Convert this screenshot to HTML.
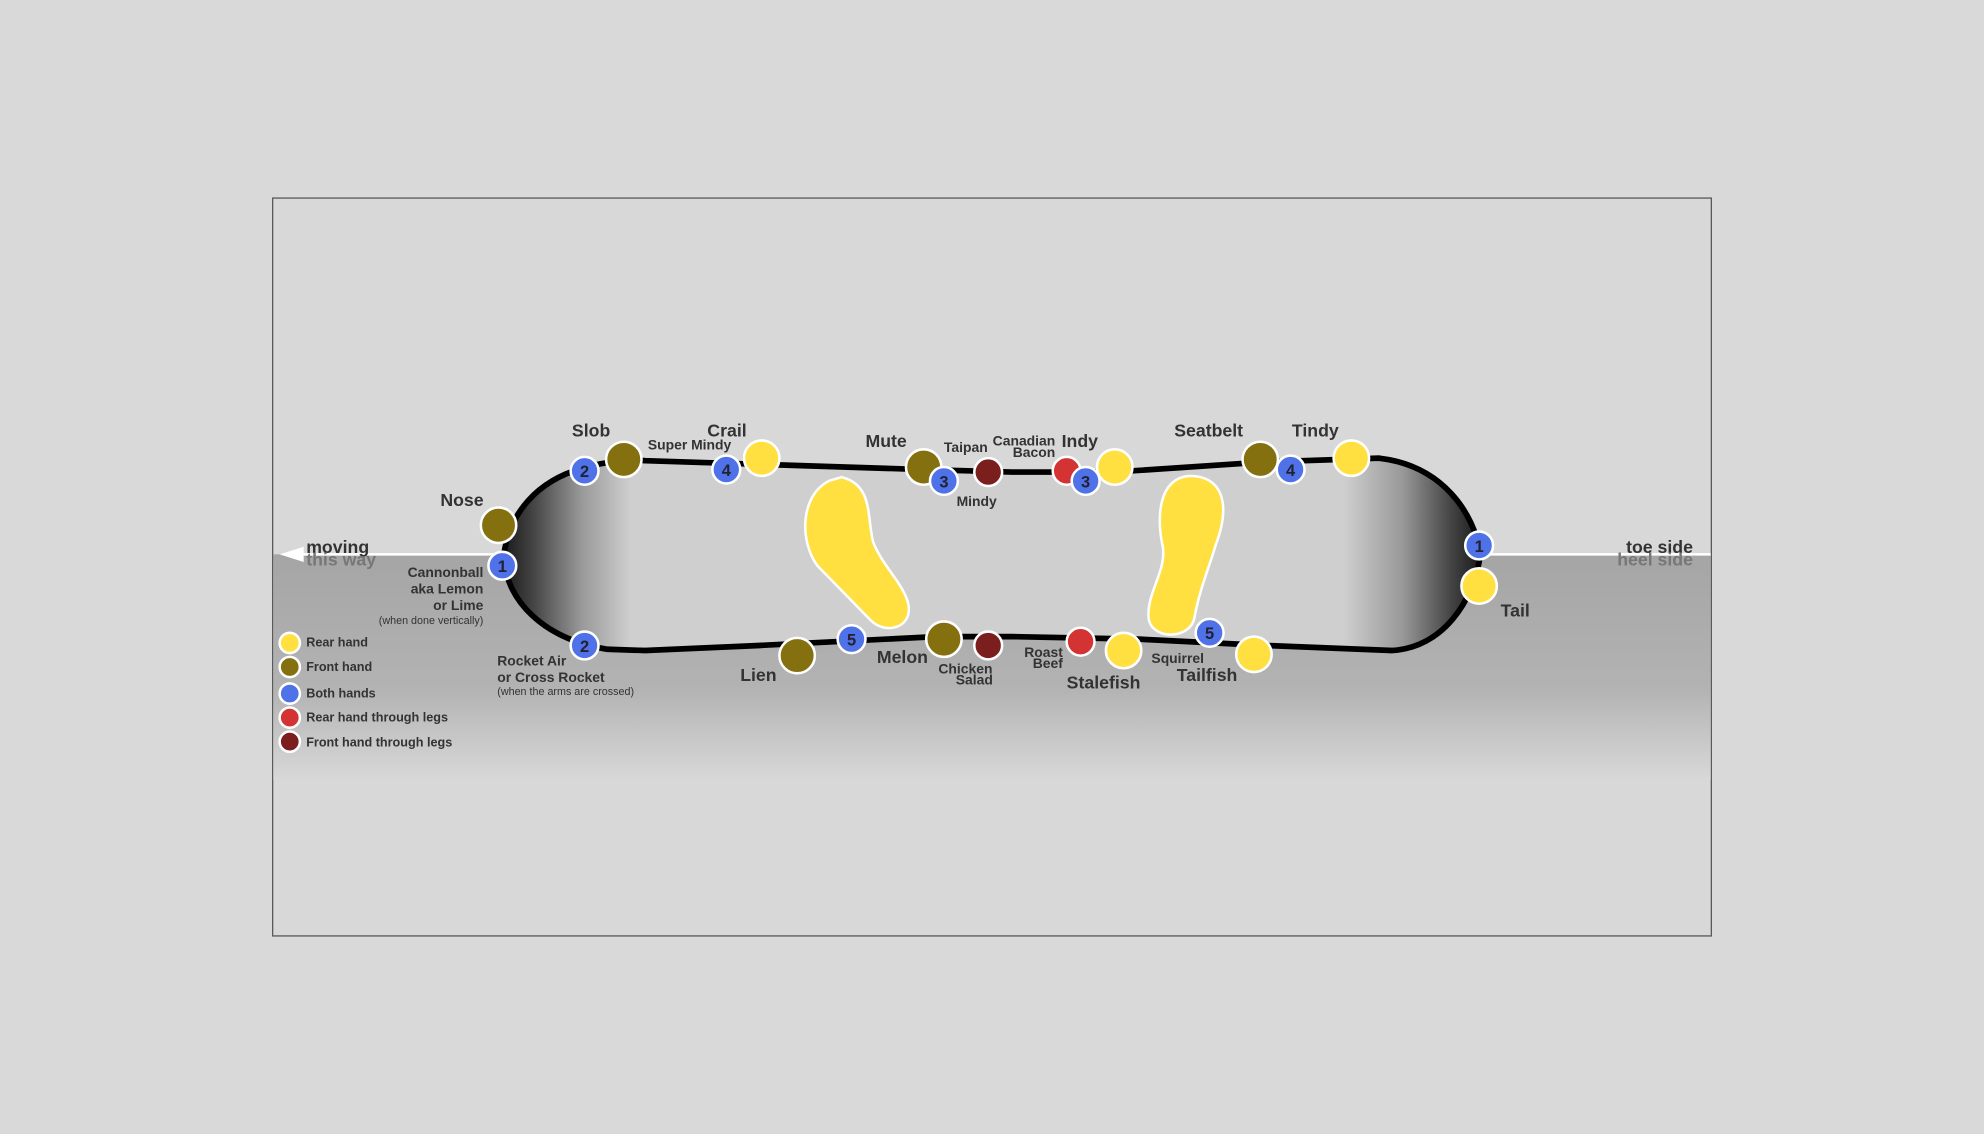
<!DOCTYPE html>
<html><head><meta charset="utf-8"><style>
html,body{margin:0;padding:0;background:#d9d9d9;}
svg{display:block;}
text{font-family:"Liberation Sans Narrow","Liberation Sans",Arial,sans-serif;font-weight:bold;fill:#333;}
</style></head><body>
<svg width="1984" height="1134" viewBox="0 0 1568 896" preserveAspectRatio="none">
<defs>
<linearGradient id="bot" x1="0" y1="0" x2="0" y2="1">
<stop offset="0" stop-color="#a5a5a5"/><stop offset="0.6" stop-color="#b3b3b3"/><stop offset="1" stop-color="#d8d8d8"/>
</linearGradient>
<linearGradient id="board" x1="398" y1="0" x2="1170" y2="0" gradientUnits="userSpaceOnUse">
<stop offset="0" stop-color="#1a1a1a"/><stop offset="0.03" stop-color="#444"/><stop offset="0.08" stop-color="#999"/><stop offset="0.13" stop-color="#cfcfcf"/>
<stop offset="0.86" stop-color="#cfcfcf"/><stop offset="0.92" stop-color="#999"/><stop offset="0.97" stop-color="#444"/><stop offset="1" stop-color="#1a1a1a"/>
</linearGradient>
</defs>
<rect x="0" y="0" width="1568" height="896" fill="#d9d9d9"/>
<rect x="215.5" y="156.5" width="1137" height="583" fill="#d8d8d8" stroke="#555" stroke-width="1"/>
<rect x="216" y="438" width="1136" height="178" fill="url(#bot)"/>
<line x1="230" y1="438" x2="400" y2="438" stroke="#fff" stroke-width="2"/>
<line x1="1170" y1="438" x2="1352" y2="438" stroke="#fff" stroke-width="2"/>
<polygon points="221,438 240,432 240,444" fill="#fff"/>
<path d="M460,370 C480,364 500,363 510,364 L730,371 L800,373 L880,373 L1000,365 L1090,362 C1140,368 1165,405 1170,438 C1165,475 1140,512 1100,514 L1000,510 L900,505 L800,503 L740,503 L600,510 L510,514 L480,513 C430,505 400,475 398,440 C402,405 425,380 460,370 Z" fill="url(#board)" stroke="#000" stroke-width="4.5" stroke-linejoin="round"/>
<path d="M655,380 C632,392 632,428 646,447 L688,490 C700,502 721,496 718,478 C715,462 697,447 690,428 C685,408 690,383 665,377 Z" fill="#ffe040" stroke="#fff" stroke-width="2"/>
<path d="M940,376 C915,378 914,410 919,432 C922,452 905,470 908,490 C912,506 941,505 944,488 C948,466 955,450 961,430 C973,398 966,376 940,376 Z" fill="#ffe040" stroke="#fff" stroke-width="2"/>
<g stroke="#fff" stroke-width="2">
<circle cx="394" cy="415" r="14" fill="#857010"/>
<circle cx="493" cy="363" r="14" fill="#857010"/>
<circle cx="602" cy="362" r="14" fill="#ffe040"/>
<circle cx="730" cy="369" r="14" fill="#857010"/>
<circle cx="781" cy="373" r="11" fill="#7a1e1e"/>
<circle cx="843" cy="372" r="11" fill="#d33333"/>
<circle cx="881" cy="369" r="14" fill="#ffe040"/>
<circle cx="996" cy="363" r="14" fill="#857010"/>
<circle cx="1068" cy="362" r="14" fill="#ffe040"/>
<circle cx="1169" cy="463" r="14" fill="#ffe040"/>
<circle cx="630" cy="518" r="14" fill="#857010"/>
<circle cx="746" cy="505" r="14" fill="#857010"/>
<circle cx="781" cy="510" r="11" fill="#7a1e1e"/>
<circle cx="854" cy="507" r="11" fill="#d33333"/>
<circle cx="888" cy="514" r="14" fill="#ffe040"/>
<circle cx="991" cy="517" r="14" fill="#ffe040"/>
<g fill="#4f72e8">
<circle cx="397" cy="447" r="11"/><circle cx="462" cy="372" r="11"/><circle cx="574" cy="371" r="11"/>
<circle cx="746" cy="380" r="11"/><circle cx="858" cy="380" r="11"/><circle cx="1020" cy="371" r="11"/>
<circle cx="1169" cy="431" r="11"/><circle cx="462" cy="510" r="11"/><circle cx="673" cy="505" r="11"/><circle cx="956" cy="500" r="11"/>
</g>
<circle cx="229" cy="508" r="8" fill="#ffe040"/>
<circle cx="229" cy="527" r="8" fill="#857010"/>
<circle cx="229" cy="548" r="8" fill="#4f72e8"/>
<circle cx="229" cy="567" r="8" fill="#d33333"/>
<circle cx="229" cy="586" r="8" fill="#7a1e1e"/>
</g>
<g font-size="13" text-anchor="middle">
<text x="397" y="452" style="fill:#223">1</text><text x="462" y="377" style="fill:#223">2</text><text x="574" y="376" style="fill:#223">4</text>
<text x="746" y="385" style="fill:#223">3</text><text x="858" y="385" style="fill:#223">3</text><text x="1020" y="376" style="fill:#223">4</text>
<text x="1169" y="436" style="fill:#223">1</text><text x="462" y="515" style="fill:#223">2</text><text x="673" y="510" style="fill:#223">5</text><text x="956" y="505" style="fill:#223">5</text>
</g>
<g font-size="14">
<text x="452" y="345">Slob</text><text x="559" y="345">Crail</text><text x="684" y="353">Mute</text>
<text x="839" y="353">Indy</text><text x="928" y="345">Seatbelt</text><text x="1021" y="345">Tindy</text>
<text x="348" y="400">Nose</text><text x="1186" y="487">Tail</text>
<text x="585" y="538">Lien</text><text x="693" y="524">Melon</text><text x="843" y="544">Stalefish</text><text x="930" y="538">Tailfish</text>
<text x="242" y="437">moving</text><text x="242" y="447" style="fill:#777">this way</text>
<text x="1338" y="437" text-anchor="end">toe side</text><text x="1338" y="447" text-anchor="end" style="fill:#777">heel side</text>
</g>
<g font-size="11">
<text x="512" y="355">Super Mindy</text><text x="746" y="357">Taipan</text>
<text x="834" y="352" text-anchor="end">Canadian</text><text x="834" y="361" text-anchor="end">Bacon</text>
<text x="756" y="400">Mindy</text>
<text x="382" y="456" text-anchor="end">Cannonball</text><text x="382" y="469" text-anchor="end">aka Lemon</text><text x="382" y="482" text-anchor="end">or Lime</text>
<text x="393" y="526">Rocket Air</text><text x="393" y="539">or Cross Rocket</text>
<text x="763" y="532" text-anchor="middle">Chicken</text><text x="770" y="541" text-anchor="middle">Salad</text>
<text x="840" y="519" text-anchor="end">Roast</text><text x="840" y="528" text-anchor="end">Beef</text>
<text x="910" y="524">Squirrel</text>
</g>
<g font-size="8.5">
<text x="382" y="493" text-anchor="end" style="font-weight:normal">(when done vertically)</text>
<text x="393" y="549" style="font-weight:normal">(when the arms are crossed)</text>
</g>
<g font-size="10">
<text x="242" y="511">Rear hand</text><text x="242" y="530">Front hand</text><text x="242" y="551">Both hands</text>
<text x="242" y="570">Rear hand through legs</text><text x="242" y="590">Front hand through legs</text>
</g>
</svg>
</body></html>
